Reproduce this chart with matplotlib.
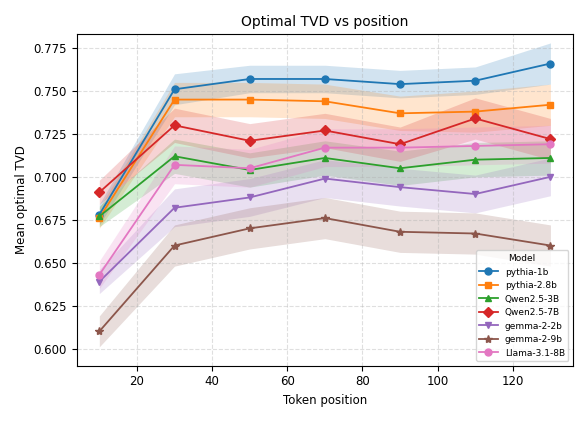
import matplotlib
matplotlib.use("Agg")
from matplotlib import pyplot as plt

positions = [10, 30, 50, 70, 90, 110, 130]

models = ["pythia-1b", "pythia-2.8b", "Qwen2.5-3B", "Qwen2.5-7B",
          "gemma-2-2b", "gemma-2-9b", "Llama-3.1-8B"]
markers = ["o", "s", "^", "D", "v", "*", "o"]

pythia_1b = [0.678, 0.751, 0.757, 0.757, 0.754, 0.756, 0.766]
pythia_28b = [0.676, 0.745, 0.745, 0.744, 0.737, 0.738, 0.742]
qwen_3b = [0.677, 0.712, 0.704, 0.711, 0.705, 0.710, 0.711]
qwen_7b = [0.691, 0.730, 0.721, 0.727, 0.719, 0.734, 0.722]
gemma_2b = [0.639, 0.682, 0.688, 0.699, 0.694, 0.690, 0.700]
gemma_9b = [0.610, 0.660, 0.670, 0.676, 0.668, 0.667, 0.660]
llama_8b = [0.643, 0.707, 0.705, 0.717, 0.717, 0.718, 0.719]

# half-widths of the shaded bands
pythia_1b_err = [0.006, 0.009, 0.008, 0.008, 0.008, 0.008, 0.012]
pythia_28b_err = [0.006, 0.010, 0.010, 0.010, 0.010, 0.012, 0.012]
qwen_3b_err = [0.006, 0.010, 0.010, 0.010, 0.010, 0.010, 0.010]
qwen_7b_err = [0.007, 0.010, 0.010, 0.010, 0.010, 0.012, 0.012]
gemma_2b_err = [0.007, 0.011, 0.011, 0.011, 0.011, 0.011, 0.011]
gemma_9b_err = [0.009, 0.012, 0.012, 0.012, 0.012, 0.012, 0.012]
llama_8b_err = [0.008, 0.011, 0.011, 0.011, 0.011, 0.011, 0.011]

series = [pythia_1b, pythia_28b, qwen_3b, qwen_7b, gemma_2b, gemma_9b, llama_8b]
errors = [pythia_1b_err, pythia_28b_err, qwen_3b_err, qwen_7b_err,
          gemma_2b_err, gemma_9b_err, llama_8b_err]

fig, ax = plt.subplots(figsize=(5.88, 4.22), dpi=100)
for i, name in enumerate(models):
    color = "C%d" % i
    ys = series[i]
    err = errors[i]
    ax.fill_between(positions, [y - e for y, e in zip(ys, err)],
                    [y + e for y, e in zip(ys, err)], color=color, alpha=0.2, linewidth=0)
    ms = 6 if markers[i] == "*" else 5
    ax.plot(positions, ys, marker=markers[i], color=color, label=name,
            markersize=ms, linewidth=1.3)

ax.set_title("Optimal TVD vs position", fontsize=10)
ax.set_xlabel("Token position", fontsize=8.5)
ax.set_ylabel("Mean optimal TVD", fontsize=8.5)
ax.tick_params(labelsize=8.5)
ax.set_ylim(0.59, 0.783)
ax.yaxis.set_major_formatter(matplotlib.ticker.FormatStrFormatter("%.3f"))
ax.grid(True, linestyle="--", alpha=0.4)
ax.legend(title="Model", fontsize=6.5, title_fontsize=6.5, loc="lower right")
fig.tight_layout()
fig.savefig("out.png")
